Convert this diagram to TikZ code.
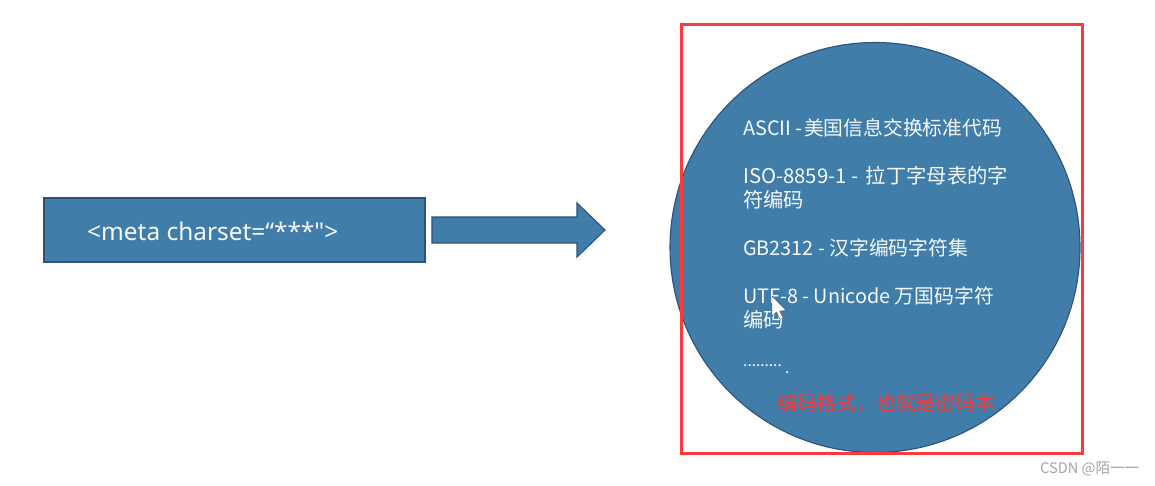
\documentclass[tikz,border=0pt]{standalone}
\usepackage{fontspec}
\setmainfont{Noto Sans CJK SC}
\newfontfamily\latfont{Noto Sans}
\definecolor{fillblue}{HTML}{417DA9}
\definecolor{edgeblue}{HTML}{2F5079}
\definecolor{redbox}{HTML}{FA3C3F}
\definecolor{redtext}{HTML}{F23A3A}
\definecolor{wm}{HTML}{A6A6A6}
\tikzset{
  x=1pt,y=-1pt,
  shapeblue/.style={fill=fillblue,draw=edgeblue,line width=1.1pt},
  line/.style={anchor=west,inner sep=0pt,text=white!95!fillblue,font=\fontsize{20.3}{21}\selectfont},
  narrowline/.style={line,font=\fontsize{19.8}{21}\selectfont},
  dotline/.style={line,font=\fontsize{16}{16}\selectfont\latfont},
}
\begin{document}
\begin{tikzpicture}
\useasboundingbox (0,0) rectangle (1155,485);
\fill[white] (0,0) rectangle (1155,485);
\draw[shapeblue] (44,198) rectangle (425,262);
\node[line,font=\fontsize{24.4}{25}\selectfont\latfont] (meta) at (87,231) {<meta charset=“***"{}>};
\draw[shapeblue] (432,217) -- (577,217) -- (577,203) -- (605,230) -- (577,257) -- (577,243) -- (432,243) -- cycle;
\node[circle,shapeblue,minimum size=410pt,inner sep=0pt] (disc) at (875,247.5) {};
\draw[redbox,line width=3pt] (681,24) rectangle (1082,453);
\node[narrowline] (a) at (743,128) {ASCII\hspace{.2em}-\hspace{.1em}美国信息交换标准代码};
\node[line] (b) at (743,176) {ISO-8859-1 -\hspace{.15em} 拉丁字母表的字};
\node[line] (c) at (743,200) {符编码};
\node[narrowline] (d) at (743,248) {GB2312 - 汉字编码字符集};
\node[narrowline] (e) at (743,296) {UTF-8 - Unicode 万国码字符};
\node[line] (f) at (743,320) {编码};
\node[dotline] (g) at (743,366) {.........};
\node[dotline] (g2) at (785,373) {.};
\node[narrowline,text=redtext] (r) at (777,403) {编码格式，也就是密码本};
\draw[fill=white,draw=black!70,line width=.4pt] (772,296) -- (772,316) -- (776.5,312) -- (780,319.5) -- (783,318) -- (779.5,311) -- (786,310.5) -- cycle;
\node[anchor=west,inner sep=0pt,text=wm,font=\fontsize{14.6}{15}\selectfont] (w) at (1040,469) {CSDN @陌一一};
\end{tikzpicture}
\end{document}
